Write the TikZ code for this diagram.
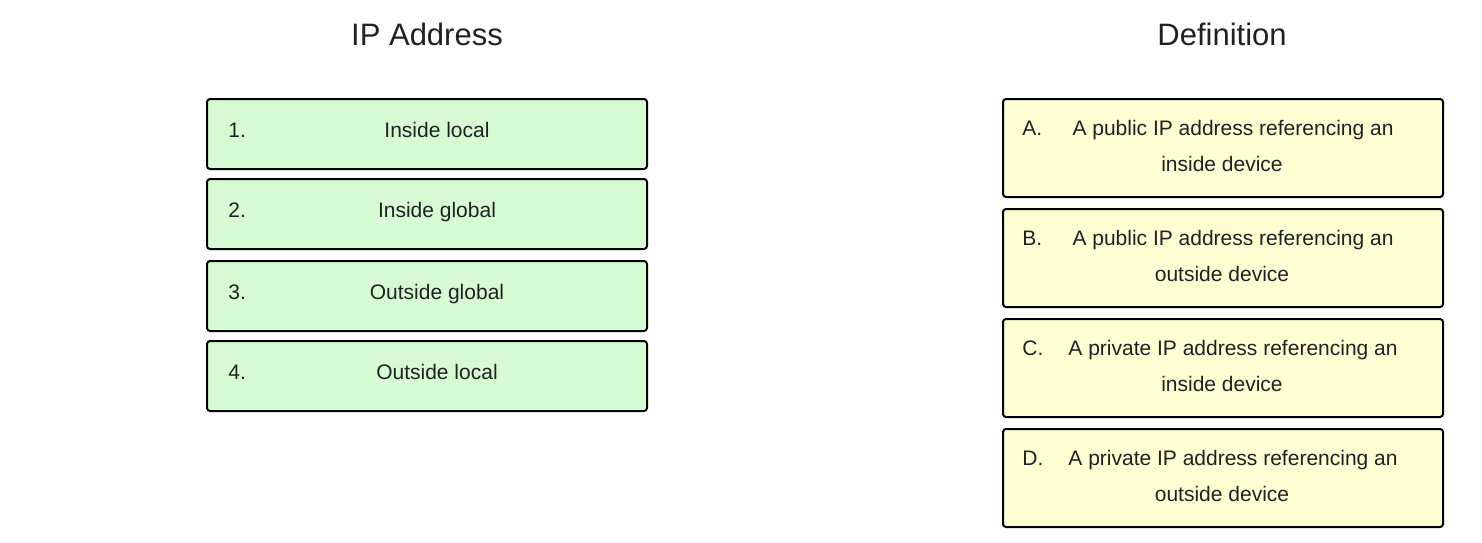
\documentclass[tikz,border=0pt]{standalone}
\usepackage{fontspec}
\setmainfont{Liberation Sans}
\usepackage{xcolor}
\usetikzlibrary{positioning}
\definecolor{termgreen}{HTML}{D6FAD2}
\definecolor{defyellow}{HTML}{FFFFD3}
\definecolor{inkgray}{HTML}{202124}

\begin{document}
\begin{tikzpicture}[x=0.5pt, y=-0.5pt,
        termbox/.style={draw=black, line width=1pt, rounded corners=1.5pt, fill=termgreen,
            minimum width=220pt, minimum height=35pt, inner sep=0pt},
        defbox/.style={draw=black, line width=1pt, rounded corners=1.5pt, fill=defyellow,
            minimum width=220pt, minimum height=49pt, inner sep=0pt},
        boxtext/.style={font=\fontsize{10.5}{12}\selectfont, text=inkgray, inner sep=0pt,
            text height=7.5pt, text depth=0pt},
        heading/.style={font=\fontsize{15.5}{18}\selectfont, text=inkgray, inner sep=0pt,
            text height=11pt, text depth=0pt}]
    \useasboundingbox (0, 0) rectangle (1482, 542);

    \node[heading] (headIP) at (427, 34) {IP Address};
    \node[heading] (headDef) at (1222, 34) {Definition};

    % IP address column
    \node[termbox] (box1) at (427, 134) {};
    \node[boxtext, anchor=west] (num1) at (228, 130) {1.};
    \node[boxtext] (term1) at (437, 130) {Inside local};

    \node[termbox] (box2) at (427, 214) {};
    \node[boxtext, anchor=west] (num2) at (228, 210) {2.};
    \node[boxtext] (term2) at (437, 210) {Inside global};

    \node[termbox] (box3) at (427, 296) {};
    \node[boxtext, anchor=west] (num3) at (228, 292) {3.};
    \node[boxtext] (term3) at (437, 292) {Outside global};

    \node[termbox] (box4) at (427, 376) {};
    \node[boxtext, anchor=west] (num4) at (228, 372) {4.};
    \node[boxtext] (term4) at (437, 372) {Outside local};

    % definition column
    \node[defbox] (boxA) at (1223, 148) {};
    \node[boxtext, anchor=west] (letA) at (1022, 128) {A.};
    \node[boxtext] (defA) at (1233, 128) {A public IP address referencing an};
    \node[boxtext] (defAb) at (1222, 164) {inside device};

    \node[defbox] (boxB) at (1223, 258) {};
    \node[boxtext, anchor=west] (letB) at (1022, 238) {B.};
    \node[boxtext] (defB) at (1233, 238) {A public IP address referencing an};
    \node[boxtext] (defBb) at (1222, 274) {outside device};

    \node[defbox] (boxC) at (1223, 368) {};
    \node[boxtext, anchor=west] (letC) at (1022, 348) {C.};
    \node[boxtext] (defC) at (1233, 348) {A private IP address referencing an};
    \node[boxtext] (defCb) at (1222, 384) {inside device};

    \node[defbox] (boxD) at (1223, 478) {};
    \node[boxtext, anchor=west] (letD) at (1022, 458) {D.};
    \node[boxtext] (defD) at (1233, 458) {A private IP address referencing an};
    \node[boxtext] (defDb) at (1222, 494) {outside device};
\end{tikzpicture}
\end{document}
